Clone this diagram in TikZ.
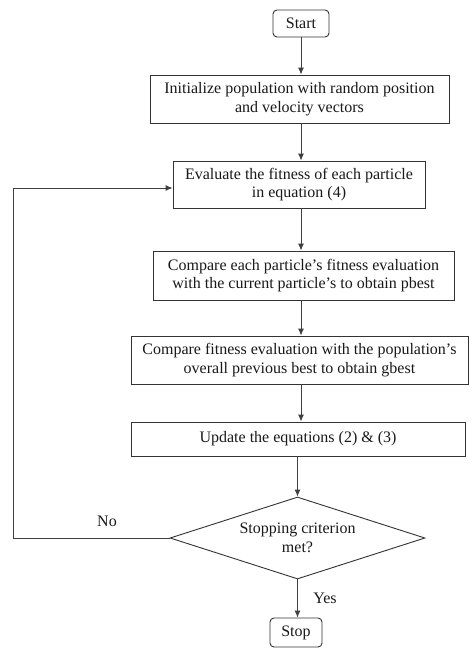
\documentclass[tikz,border=0pt]{standalone}
\usepackage{fontspec}
\setmainfont{Liberation Serif}
\usetikzlibrary{shapes.geometric,arrows.meta}
\begin{document}
\begin{tikzpicture}[x=1pt,y=1pt,
  every node/.style={font=\fontsize{16}{18.5}\selectfont, text=black!90},
  box/.style={draw=black!80, line width=0.9pt, align=center, inner sep=0pt},
  term/.style={box, rounded corners=4pt},
  decision/.style={draw=black!80, line width=0.9pt, diamond, aspect=3.1, inner sep=0pt, align=center, minimum width=255pt, minimum height=82pt},
  arr/.style={draw=black!75, line width=0.9pt, -{Latex[length=7pt,width=6pt]}},
  lbl/.style={inner sep=0pt}
]
\useasboundingbox (0,0) rectangle (474,-657);
\fill[white] (0,0) rectangle (474,-657);

\node[term, minimum width=56pt, minimum height=27pt] (start) at (301,-23.5) {Start};
\node[box, minimum width=299pt, minimum height=48pt] (init) at (299.5,-99) {Initialize population with random position\\and velocity vectors};
\node[box, minimum width=252pt, minimum height=47pt] (eval) at (299,-184.5) {Evaluate the fitness of each particle\\in equation (4)};
\node[box, minimum width=301pt, minimum height=49pt] (cmp1) at (303.5,-275.5) {Compare each particle’s fitness evaluation\\with the current particle’s to obtain pbest};
\node[box, minimum width=337pt, minimum height=48pt] (cmp2) at (299.5,-360) {Compare fitness evaluation with the population’s\\overall previous best to obtain gbest};
\node[box, minimum width=334pt, minimum height=34pt] (upd) at (298,-439) {Update the equations (2) \& (3)};
\node[decision] (dec) at (297.5,-538) {Stopping criterion\\met?};
\node[term, minimum width=52pt, minimum height=29pt] (stop) at (296,-632.5) {Stop};

\coordinate (c1) at (13,-538);
\coordinate (c2) at (13,-188);

\draw[arr] (start.south) -- (start.south |- init.north);
\draw[arr] (init.south -| start.south) -- (eval.north -| start.south);
\draw[arr] (eval.south -| start.south) -- (cmp1.north -| start.south);
\draw[arr] (cmp1.south -| start.south) -- (cmp2.north -| start.south);
\draw[arr] (cmp2.south -| start.south) -- (upd.north -| start.south);
\draw[arr] (upd.south -| dec.north) -- (dec.north);
\draw[arr] (dec.south) -- (dec.south |- stop.north);
\draw[arr] (dec.west) -- (c1) -- (c2) -- (c2 -| eval.west);

\node[lbl] (no) at (107,-521) {No};
\node[lbl] (yes) at (325,-598) {Yes};
\end{tikzpicture}
\end{document}
